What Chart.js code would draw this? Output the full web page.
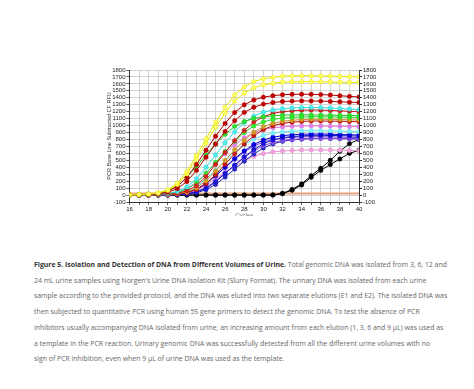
<!DOCTYPE html>
<html>
<head>
<meta charset="utf-8">
<script src="https://cdn.jsdelivr.net/npm/chart.js@4"></script>
<style>
  body { margin: 0; background: #fff; width: 474px; height: 389px; position: relative; overflow: hidden; }
  #plot { position: absolute; left: 0; top: 0; width: 474px; height: 216px; overflow: hidden; }
  #caption {
    position: absolute; left: 34px; top: 257px; width: 440px;
    font-family: "Open Sans", sans-serif; font-size: 6.9px; line-height: 15.7px;
    color: #666; white-space: nowrap;
  }
  #caption b { color: #333; }
</style>
</head>
<body>
<div id="plot"><canvas id="ampChart" width="474" height="230"></canvas></div>
<div id="caption">
<b>Figure 5. Isolation and Detection of DNA from Different Volumes of Urine.</b> Total genomic DNA was isolated from 3, 6, 12 and<br>
24 mL urine samples using Norgen's Urine DNA Isolation Kit (Slurry Format). The urinary DNA was isolated from each urine<br>
sample according to the provided protocol, and the DNA was eluted into two separate elutions (E1 and E2). The isolated DNA was<br>
then subjected to quantitative PCR using human 5S gene primers to detect the genomic DNA. To test the absence of PCR<br>
inhibitors usually accompanying DNA isolated from urine, an increasing amount from each elution (1, 3, 6 and 9 µL) was used as<br>
a template in the PCR reaction. Urinary genomic DNA was successfully detected from all the different urine volumes with no<br>
sign of PCR inhibition, even when 9 µL of urine DNA was used as the template.
</div>
<script>
// cycles shown on the x axis (16..40)
const cycles = [16, 17, 18, 19, 20, 21, 22, 23, 24, 25, 26, 27, 28, 29, 30, 31, 32, 33, 34, 35, 36, 37, 38, 39, 40];

// RFU values
const yellow1  = [3, 7, 15, 31, 75, 168, 340, 569, 809, 1050, 1262, 1441, 1557, 1633, 1674, 1694, 1712, 1715, 1718, 1716, 1714, 1712, 1708, 1705, 1702];
const yellow2  = [3, 7, 14, 28, 67, 152, 305, 518, 747, 975, 1180, 1353, 1470, 1545, 1588, 1609, 1625, 1630, 1632, 1631, 1630, 1628, 1625, 1622, 1620];
const darkRed1 = [2, 6, 12, 23, 55, 125, 255, 441, 644, 847, 1032, 1189, 1299, 1369, 1409, 1430, 1444, 1450, 1452, 1450, 1446, 1440, 1430, 1420, 1412];
const darkRed2 = [2, 5, 9, 18, 39, 92, 194, 355, 545, 734, 916, 1070, 1190, 1263, 1309, 1332, 1346, 1352, 1355, 1354, 1352, 1348, 1342, 1336, 1332];
const green1   = [2, 6, 12, 23, 58, 127, 253, 414, 575, 736, 874, 989, 1058, 1104, 1127, 1139, 1150, 1152, 1155, 1154, 1152, 1150, 1148, 1145, 1142];
const cyan1    = [1, 2, 5, 11, 21, 52, 117, 235, 400, 576, 752, 911, 1044, 1135, 1193, 1225, 1242, 1254, 1258, 1260, 1258, 1252, 1245, 1238, 1230];
const red3     = [1, 1, 2, 6, 12, 24, 61, 135, 269, 441, 612, 783, 930, 1053, 1126, 1175, 1200, 1212, 1222, 1224, 1222, 1218, 1212, 1206, 1200];
const green2   = [1, 2, 4, 8, 16, 36, 83, 173, 311, 468, 626, 774, 900, 995, 1053, 1089, 1107, 1118, 1125, 1127, 1126, 1124, 1122, 1120, 1118];
const olive    = [1, 1, 2, 4, 9, 19, 45, 101, 204, 347, 499, 652, 789, 905, 983, 1033, 1062, 1076, 1087, 1090, 1090, 1088, 1086, 1083, 1080];
const red4     = [1, 1, 2, 4, 7, 15, 34, 79, 164, 294, 443, 593, 733, 853, 942, 998, 1032, 1049, 1060, 1066, 1066, 1064, 1062, 1059, 1056];
const magenta  = [1, 2, 4, 8, 17, 41, 92, 186, 316, 455, 594, 720, 825, 897, 942, 968, 981, 991, 994, 996, 994, 992, 990, 987, 984];
const lightCyan = [1, 1, 3, 6, 11, 24, 57, 122, 230, 359, 489, 615, 722, 807, 859, 893, 909, 919, 924, 926, 926, 924, 920, 916, 912];
const blue1    = [0, 1, 2, 4, 7, 15, 36, 82, 164, 279, 402, 525, 636, 729, 792, 832, 855, 867, 875, 878, 878, 876, 872, 868, 864];
const blue2    = [0, 0, 2, 2, 4, 9, 17, 43, 95, 189, 310, 430, 550, 654, 740, 791, 826, 843, 851, 860, 860, 858, 855, 852, 848];
const purple1  = [0, 1, 2, 3, 8, 15, 37, 82, 166, 279, 396, 514, 618, 706, 763, 800, 820, 830, 838, 840, 840, 838, 834, 830, 826];
const purple2  = [0, 0, 1, 2, 5, 10, 21, 51, 108, 202, 317, 431, 542, 636, 712, 757, 787, 801, 809, 814, 816, 815, 812, 810, 806];
const blue3    = [0, 0, 1, 2, 3, 7, 14, 33, 76, 153, 259, 374, 488, 591, 677, 736, 774, 795, 805, 814, 816, 815, 813, 810, 808];
const pink     = [0, 1, 1, 3, 6, 13, 32, 71, 143, 233, 324, 415, 492, 557, 596, 622, 635, 642, 648, 650, 650, 648, 646, 642, 638];
const black1   = [0, 0, 0, 0, 0, 0, 0, 0, 0, 0, 0, 0, 0, 0, 0, 2, 25, 80, 160, 280, 385, 500, 630, 740, 800];
const black2   = [0, 0, 0, 0, 0, 0, 0, 0, 0, 0, 0, 0, 0, 0, 0, 0, 20, 70, 145, 255, 355, 440, 520, 600, 645];

const thresholdRfu = 22;

// y tick range
const yMin = -100;
const yMax = 1800;

const series = [
    { data: yellow1, color: '#e6e600', fill: '#ffff66' },
    { data: yellow2, color: '#e6e600', fill: '#ffff66' },
    { data: darkRed1, color: '#b00000', fill: '#c00000' },
    { data: darkRed2, color: '#b00000', fill: '#c00000' },
    { data: green1, color: '#20c020', fill: '#30e030' },
    { data: cyan1, color: '#30d8d8', fill: '#50eaea' },
    { data: red3, color: '#c01818', fill: '#d02020' },
    { data: green2, color: '#20d020', fill: '#30f030' },
    { data: olive, color: '#c89020', fill: '#d09a28' },
    { data: red4, color: '#b81010', fill: '#c81818' },
    { data: magenta, color: '#d878e0', fill: '#e080e8' },
    { data: lightCyan, color: '#60e0f0', fill: '#80f0ff' },
    { data: blue1, color: '#0000d0', fill: '#0000e0' },
    { data: blue2, color: '#1010c0', fill: '#1818d8' },
    { data: purple1, color: '#6a3cd8', fill: '#7a48e8' },
    { data: purple2, color: '#8048e0', fill: '#9058f0' },
    { data: blue3, color: '#2020b0', fill: '#2828c8' },
    { data: pink, color: '#e890d0', fill: '#f0a0dc' },
    { data: black1, color: '#000000', fill: '#000000' },
    { data: black2, color: '#000000', fill: '#000000' }
];

const datasets = series.map(s => ({
    data: cycles.map((c, i) => ({ x: c, y: s.data[i] })),
    borderColor: s.color,
    backgroundColor: s.fill,
    pointBackgroundColor: s.fill,
    pointBorderColor: s.color,
    borderWidth: 1,
    pointRadius: 2.2,
    pointBorderWidth: 0.5,
    tension: 0
}));

// threshold line across the plot
datasets.push({
    data: [{ x: cycles[0], y: thresholdRfu }, { x: cycles[cycles.length - 1], y: thresholdRfu }],
    borderColor: '#e8a27c',
    borderWidth: 2,
    pointRadius: 0,
    order: 100
});

const tickFont = { family: 'Liberation Sans', size: 6 };

new Chart(document.getElementById('ampChart'), {
    type: 'line',
    data: { datasets: datasets },
    options: {
        responsive: false,
        animation: false,
        layout: { padding: { left: 104, right: 89, top: 70, bottom: 0 } },
        plugins: { legend: { display: false }, tooltip: { enabled: false } },
        scales: {
            x: {
                type: 'linear',
                min: 16,
                max: 40,
                afterFit(scale) { scale.height = 28; },
                ticks: {
                    stepSize: 1,
                    autoSkip: false,
                    maxRotation: 0,
                    padding: 1,
                    color: '#222',
                    font: tickFont,
                    callback: v => v % 2 === 0 ? String(v) : ''
                },
                grid: { color: '#c8c8c8', tickColor: '#333', tickLength: 3, lineWidth: 0.8 },
                border: { color: '#333', width: 1 },
                title: {
                    display: true,
                    text: 'Cycles',
                    color: '#777',
                    font: { family: 'Liberation Sans', size: 6 },
                    padding: { top: 0, bottom: 11 }
                }
            },
            y: {
                position: 'left',
                min: yMin,
                max: yMax,
                afterFit(scale) { scale.width = 25.5; },
                ticks: { stepSize: 100, autoSkip: false, color: '#222', font: tickFont, padding: 1, callback: v => String(v) },
                grid: { color: '#c8c8c8', tickColor: '#333', tickLength: 3, lineWidth: 0.8 },
                border: { color: '#333', width: 1 },
                title: {
                    display: true,
                    text: 'PCR Base Line Subtracted CF RFU',
                    color: '#333',
                    font: { family: 'Liberation Sans', size: 5.5 },
                    padding: { top: 2, bottom: 0 }
                }
            },
            y2: {
                position: 'right',
                min: yMin,
                max: yMax,
                afterFit(scale) { scale.width = 26; },
                ticks: { stepSize: 100, autoSkip: false, color: '#222', font: tickFont, padding: 1, callback: v => String(v) },
                grid: { drawOnChartArea: false, tickColor: '#333', tickLength: 3 },
                border: { color: '#333', width: 1 }
            }
        }
    }
});
</script>
</body>
</html>
